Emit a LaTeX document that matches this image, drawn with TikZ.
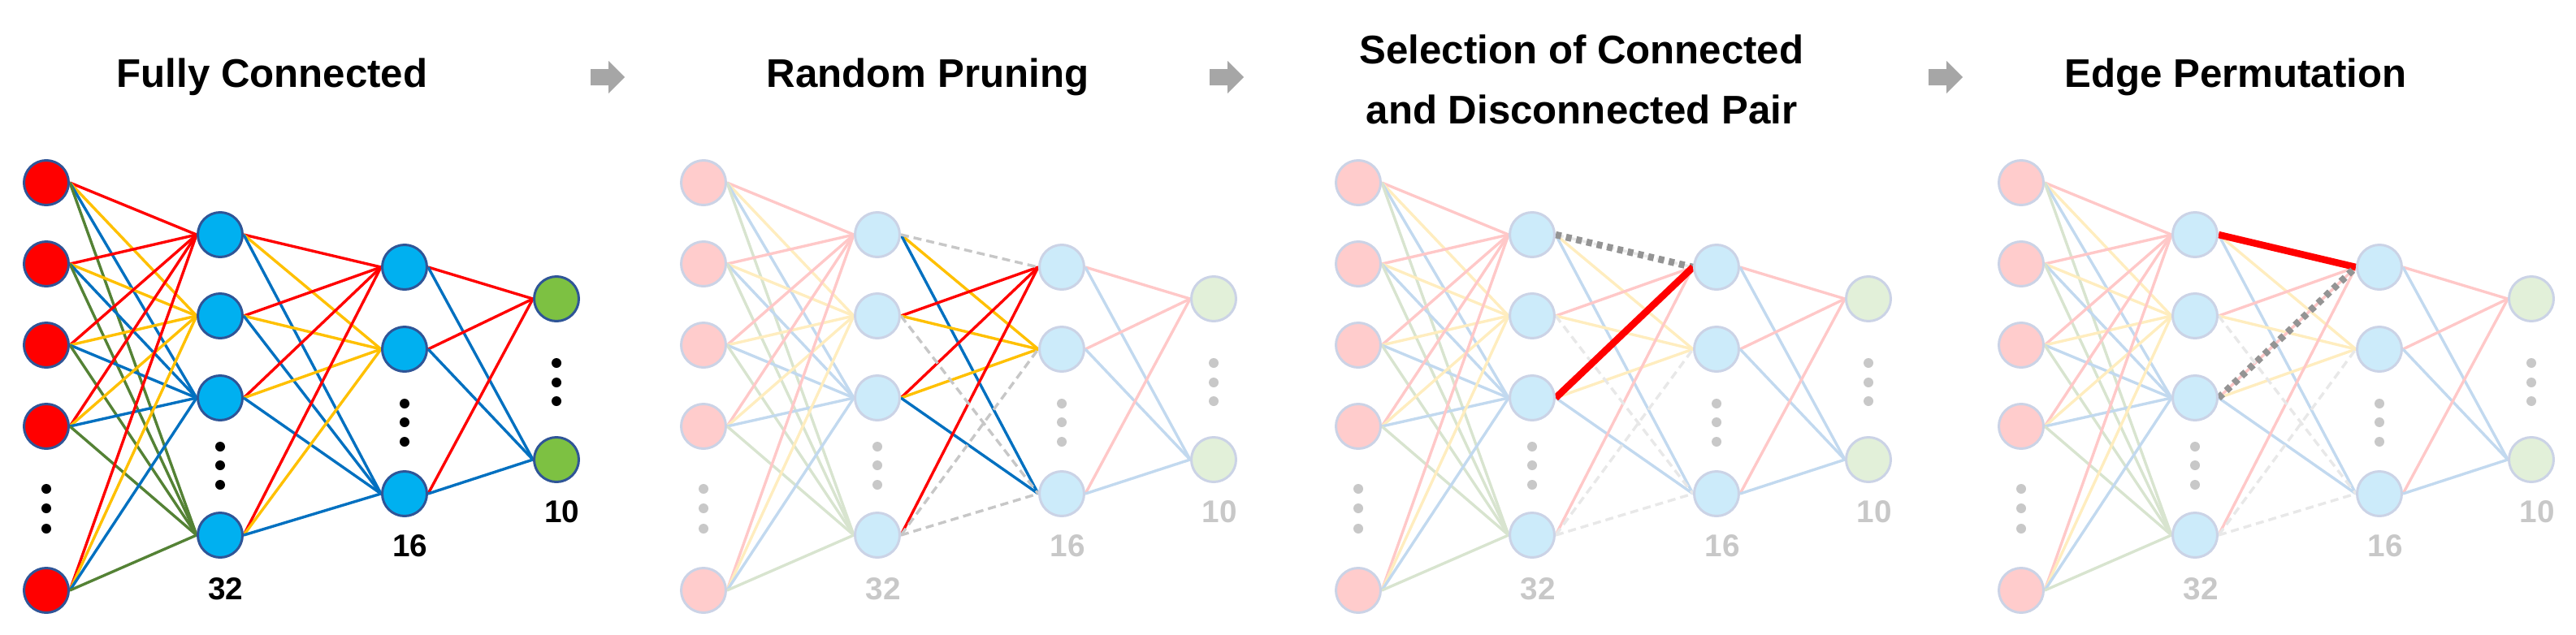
\documentclass[tikz,border=0pt]{standalone}
\usepackage{fontspec}
\setmainfont{Liberation Sans}
\usetikzlibrary{backgrounds}
\definecolor{eR}{HTML}{FF0000}
\definecolor{eY}{HTML}{FFC000}
\definecolor{eB}{HTML}{0070C0}
\definecolor{eG}{HTML}{548235}
\definecolor{fR}{HTML}{FFC8C8}
\definecolor{fY}{HTML}{FFEDBF}
\definecolor{fB}{HTML}{C2D9EF}
\definecolor{fG}{HTML}{D8E4CF}
\definecolor{nRed}{HTML}{FF0000}
\definecolor{nBlue}{HTML}{00B0F0}
\definecolor{nGreen}{HTML}{7DC142}
\definecolor{nRedF}{HTML}{FFCCCC}
\definecolor{nBlueF}{HTML}{CCEBFA}
\definecolor{nGreenF}{HTML}{E2F0D9}
\definecolor{olD}{HTML}{2F5597}
\definecolor{olF}{HTML}{CBD3E6}
\definecolor{txF}{HTML}{C8C8C8}
\definecolor{arrowgrey}{HTML}{A6A6A6}
\tikzset{
  neuron/.style={circle,draw=ol,line width=0.03cm,minimum size=0.55cm,inner sep=0pt},
  edge/.style={line width=0.034cm},
  pruned/.style={line width=0.034cm,dashed,dash pattern=on 0.1cm off 0.06cm},
  hilite/.style={line width=0.085cm,eR},
  swapdot/.style={line width=0.085cm,color=black!42,dash pattern=on 0.07cm off 0.06cm},
  dotm/.style={circle,fill=tc,inner sep=0pt,minimum size=0.12cm},
  laytext/.style={font=\bfseries\fontsize{11}{13}\selectfont,text=tc},
  title/.style={font=\bfseries\fontsize{14}{21}\selectfont,align=center}
}
\newcommand\mypanel[3]{%
\begin{scope}[xshift=#2cm]
\ifnum#3=0
 \colorlet{cR}{eR}\colorlet{cY}{eY}\colorlet{cB}{eB}\colorlet{cG}{eG}
 \colorlet{kIn}{nRed}\colorlet{kHid}{nBlue}\colorlet{kOut}{nGreen}\colorlet{ol}{olD}\colorlet{tc}{black}
\else
 \colorlet{cR}{fR}\colorlet{cY}{fY}\colorlet{cB}{fB}\colorlet{cG}{fG}
 \colorlet{kIn}{nRedF}\colorlet{kHid}{nBlueF}\colorlet{kOut}{nGreenF}\colorlet{ol}{olF}\colorlet{tc}{txF}
\fi
\ifnum#3=1 \colorlet{mR}{eR}\colorlet{mY}{eY}\colorlet{mB}{eB}\colorlet{pc}{black!22}
\else \colorlet{mR}{cR}\colorlet{mY}{cY}\colorlet{mB}{cB}\colorlet{pc}{black!9}\fi
\foreach \n/\y in {1/2.25,2/3.25,3/4.25,4/5.25,5/7.27} \node[neuron,fill=kIn] (#1i\n) at (0.57,-\y) {};
\foreach \n/\y in {1/2.89,2/3.89,3/4.90,4/6.59} \node[neuron,fill=kHid] (#1h\n) at (2.71,-\y) {};
\foreach \n/\y in {1/3.29,2/4.30,3/6.08} \node[neuron,fill=kHid] (#1g\n) at (4.98,-\y) {};
\foreach \n/\y in {1/3.68,2/5.66} \node[neuron,fill=kOut] (#1o\n) at (6.85,-\y) {};
\foreach \n/\x/\y in {a/0.57/6.02,b/0.57/6.26,c/0.57/6.51,d/2.71/5.50,e/2.71/5.73,f/2.71/5.97,g/4.98/4.97,h/4.98/5.20,k/4.98/5.44,l/6.85/4.47,m/6.85/4.71,n/6.85/4.94}
  \node[dotm] (#1d\n) at (\x,-\y) {};
\node[laytext] (#1l32) at (2.78,-7.25) {32};
\node[laytext] (#1l16) at (5.05,-6.72) {16};
\node[laytext] (#1l10) at (6.92,-6.30) {10};
\begin{pgfonlayer}{background}
\foreach \s in {1,...,5}{
  \draw[edge,cR] (#1i\s.east) -- (#1h1.west);
  \draw[edge,cY] (#1i\s.east) -- (#1h2.west);
  \draw[edge,cB] (#1i\s.east) -- (#1h3.west);
  \draw[edge,cG] (#1i\s.east) -- (#1h4.west);}
\ifnum#3=0
 \foreach \s in {1,...,4}{
  \draw[edge,cR] (#1h\s.east) -- (#1g1.west);
  \draw[edge,cY] (#1h\s.east) -- (#1g2.west);
  \draw[edge,cB] (#1h\s.east) -- (#1g3.west);}
\else
 \foreach \a/\b/\c in {1/2/mY,1/3/mB,2/1/mR,2/2/mY,3/1/mR,3/2/mY,3/3/mB,4/1/mR}
  \draw[edge,\c] (#1h\a.east) -- (#1g\b.west);
 \foreach \a/\b in {1/1,2/3,4/2,4/3}
  \draw[pruned,pc] (#1h\a.east) -- (#1g\b.west);
\fi
\foreach \s in {1,2,3}{
  \draw[edge,cR] (#1g\s.east) -- (#1o1.west);
  \draw[edge,cB] (#1g\s.east) -- (#1o2.west);}
\ifnum#3=2
  \draw[swapdot] (#1h1.east) -- (#1g1.west);
  \draw[hilite] (#1h3.east) -- (#1g1.west);
\fi
\ifnum#3=3
  \draw[hilite] (#1h1.east) -- (#1g1.west);
  \draw[swapdot] (#1h3.east) -- (#1g1.west);
\fi
\end{pgfonlayer}
\end{scope}}
\begin{document}
\begin{tikzpicture}
\useasboundingbox (0,0) rectangle (31.71,-7.82);
\mypanel{A}{0}{0}
\mypanel{B}{8.09}{1}
\mypanel{C}{16.15}{2}
\mypanel{D}{24.31}{3}
\node[title] (t1) at (3.35,-0.95) {Fully Connected};
\node[title] (t2) at (11.42,-0.95) {Random Pruning};
\node[title] (t3) at (19.47,-0.98) {Selection of Connected\\and Disconnected Pair};
\node[title] (t4) at (27.52,-0.95) {Edge Permutation};
\foreach \x in {7.47,15.09,23.94}
  \fill[arrowgrey] (\x-0.2,-0.85) -- (\x+0.02,-0.85) -- (\x+0.02,-0.75) -- (\x+0.22,-0.95) -- (\x+0.02,-1.15) -- (\x+0.02,-1.05) -- (\x-0.2,-1.05) -- cycle;
\end{tikzpicture}
\end{document}
